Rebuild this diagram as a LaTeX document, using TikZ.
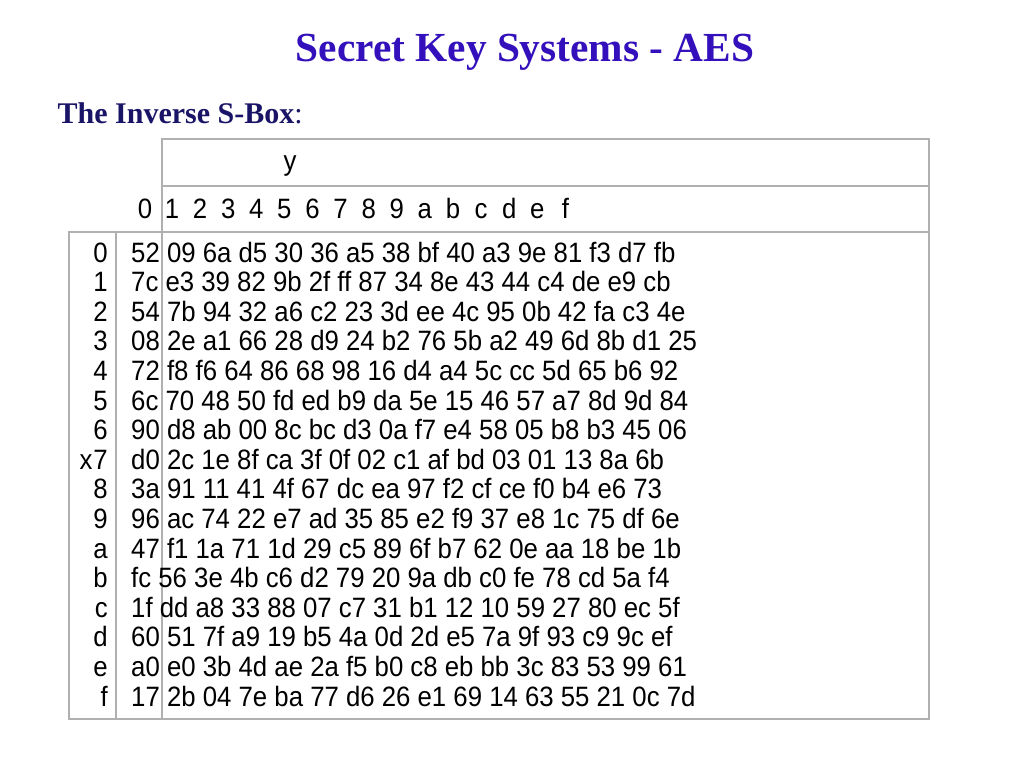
\documentclass[tikz,border=0pt]{standalone}
\usepackage{fontspec}
\setmainfont{Liberation Serif}
\newfontfamily\arial{Liberation Sans}
\definecolor{titlec}{HTML}{3310BB}
\definecolor{subc}{HTML}{1A1466}
\definecolor{gridc}{HTML}{B0B0B0}
\begin{document}
\begin{tikzpicture}[x=0.75pt,y=-0.75pt,
  cell/.style={inner sep=0pt,anchor=base,xscale=0.92,font=\arial\fontsize{21}{24}\selectfont},
  gridline/.style={draw=gridc,line width=0.8pt}]
\useasboundingbox[fill=white] (0,0) rectangle (1024,768);
\node[font=\bfseries\fontsize{31}{34}\selectfont,text=titlec] (title) at (525,52) {Secret Key Systems - AES};
\node[anchor=west,font=\fontsize{22.5}{26}\selectfont,text=subc] (sub) at (53,113) {\textbf{The Inverse S-Box}:};
\draw[gridline] (162,139) rectangle (929,232);
\draw[gridline] (162,186) -- (929,186);
\draw[gridline] (69,232) rectangle (929,719);
\draw[gridline] (116,232) -- (116,719);
\draw[gridline] (162,232) -- (162,719);
\node[cell] (y) at (290,170) {y};
\node[cell] (h0) at (145,218) {0};
\foreach \d [count=\i from 0] in {1,2,3,4,5,6,7,8,9,a,b,c,d,e,f}
  \node[cell] (h\d) at (172+28.1*\i,218) {\d};
\foreach \lab/\row [count=\i from 0] in {
0/52 09 6a d5 30 36 a5 38 bf 40 a3 9e 81 f3 d7 fb,
1/7c e3 39 82 9b 2f ff 87 34 8e 43 44 c4 de e9 cb,
2/54 7b 94 32 a6 c2 23 3d ee 4c 95 0b 42 fa c3 4e,
3/08 2e a1 66 28 d9 24 b2 76 5b a2 49 6d 8b d1 25,
4/72 f8 f6 64 86 68 98 16 d4 a4 5c cc 5d 65 b6 92,
5/6c 70 48 50 fd ed b9 da 5e 15 46 57 a7 8d 9d 84,
6/90 d8 ab 00 8c bc d3 0a f7 e4 58 05 b8 b3 45 06,
7/d0 2c 1e 8f ca 3f 0f 02 c1 af bd 03 01 13 8a 6b,
8/3a 91 11 41 4f 67 dc ea 97 f2 cf ce f0 b4 e6 73,
9/96 ac 74 22 e7 ad 35 85 e2 f9 37 e8 1c 75 df 6e,
a/47 f1 1a 71 1d 29 c5 89 6f b7 62 0e aa 18 be 1b,
b/fc 56 3e 4b c6 d2 79 20 9a db c0 fe 78 cd 5a f4,
c/1f dd a8 33 88 07 c7 31 b1 12 10 59 27 80 ec 5f,
d/60 51 7f a9 19 b5 4a 0d 2d e5 7a 9f 93 c9 9c ef,
e/a0 e0 3b 4d ae 2a f5 b0 c8 eb bb 3c 83 53 99 61,
f/17 2b 04 7e ba 77 d6 26 e1 69 14 63 55 21 0c 7d}{
  \node[cell,anchor=base east] (l\lab) at (108,262+29.6*\i) {\lab};
  \node[cell,anchor=base west] (r\lab) at (131,262+29.6*\i) {\row};
}
\node[cell] (x) at (86,469) {x};
\end{tikzpicture}
\end{document}
